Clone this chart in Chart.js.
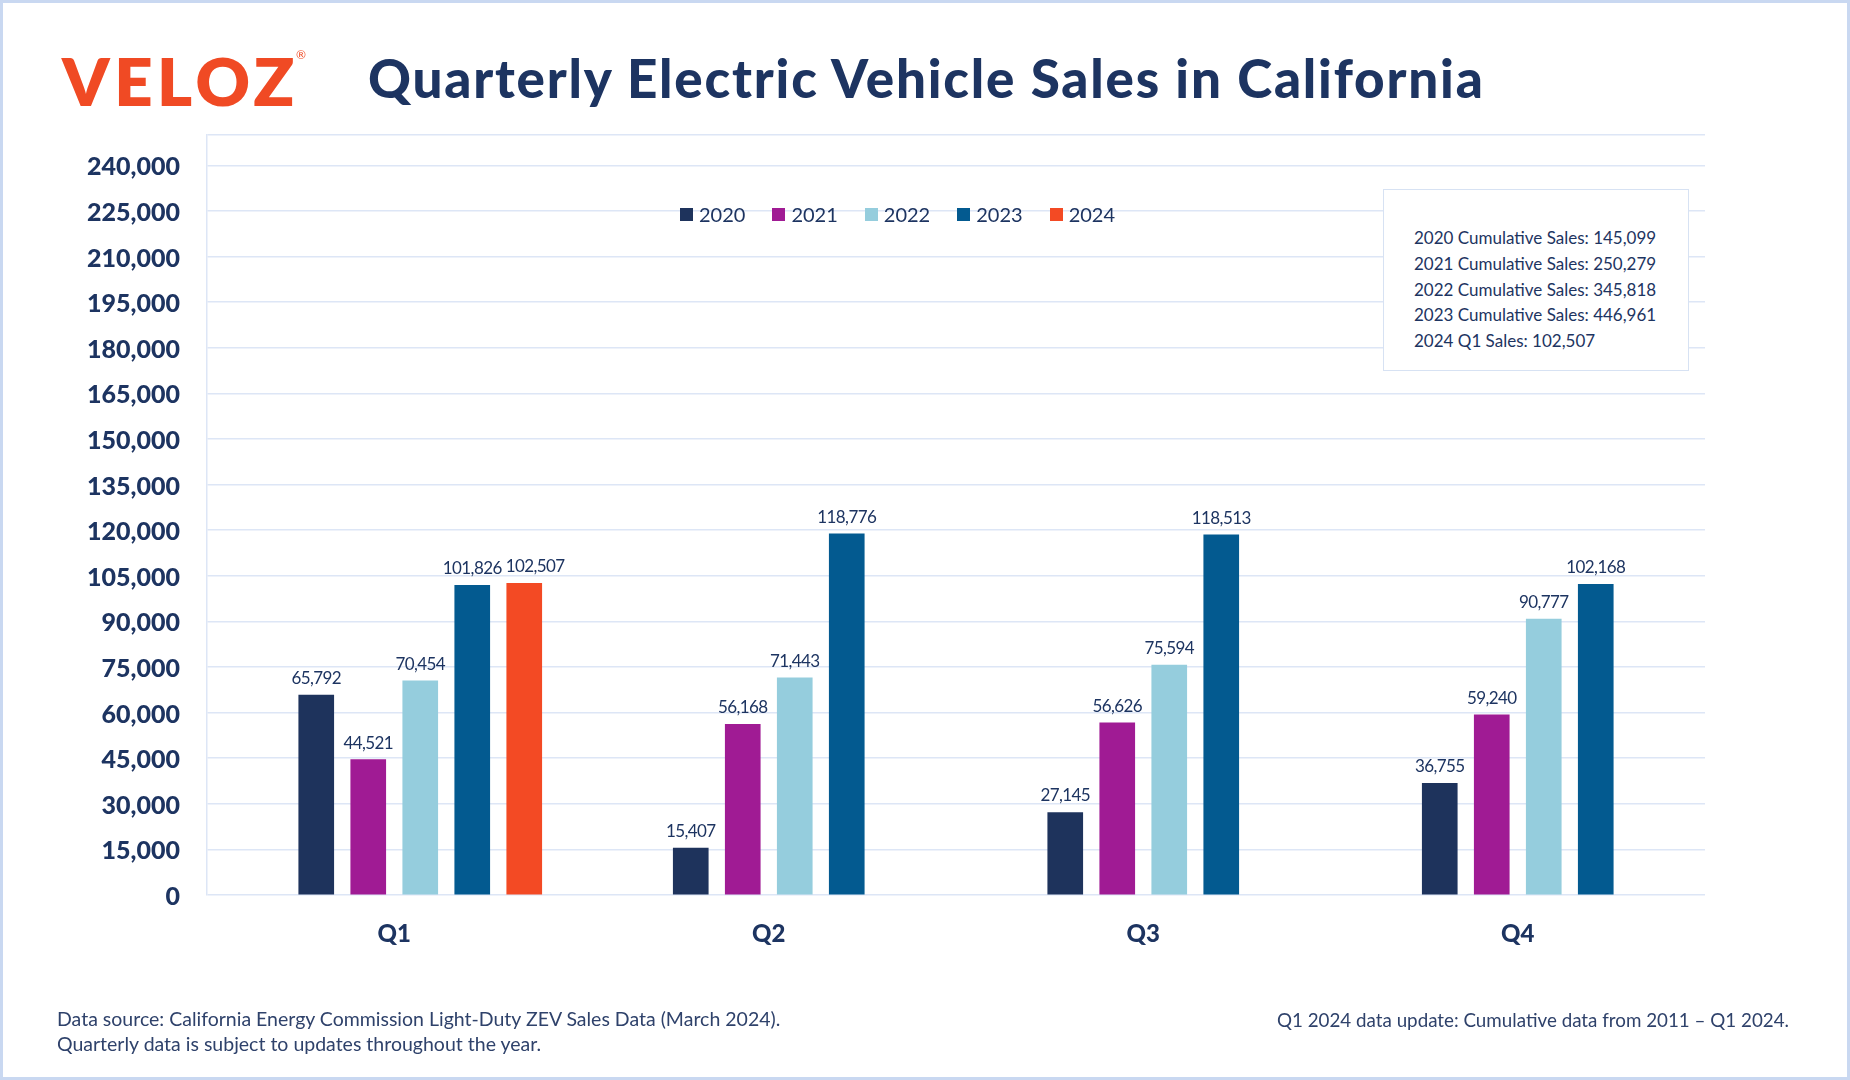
<!DOCTYPE html>
<html>
<head>
<meta charset="utf-8">
<script src="https://cdn.jsdelivr.net/npm/chart.js@4.4.1/dist/chart.umd.min.js"></script>
<style>
html,body{margin:0;padding:0;background:#ffffff;}
body{width:1850px;height:1080px;position:relative;overflow:hidden;font-family:Lato,"Open Sans",sans-serif;color:#1d3461;}
#frame{position:absolute;left:0;top:0;width:1850px;height:1080px;box-sizing:border-box;border:3px solid #c9d8f1;pointer-events:none;z-index:10;}
#logo{position:absolute;left:62px;top:47px;font-weight:800;font-size:67px;line-height:1;color:#f04a24;letter-spacing:4.5px;white-space:nowrap;}
#logo sup{font-size:12px;font-weight:400;letter-spacing:0;vertical-align:top;position:relative;top:2px;left:-3px;}
#title{position:absolute;left:368px;top:51px;font-weight:900;font-size:53px;letter-spacing:1.8px;line-height:1;color:#1d3461;white-space:nowrap;}
#chart{position:absolute;left:0;top:0;}
#legend{position:absolute;left:680px;top:203px;height:22px;display:flex;align-items:center;font-size:20px;line-height:22px;color:#1d3461;}
#legend .item{display:flex;align-items:center;margin-right:27px;}
#legend .sw{width:13px;height:13px;margin-right:6px;}
#info{position:absolute;left:1383px;top:189px;width:306px;height:182px;box-sizing:border-box;border:1.5px solid #d7e2f3;background:#ffffff;padding:35px 0 0 30px;font-size:17px;line-height:25.8px;color:#1d3461;white-space:nowrap;}
#foot1{position:absolute;left:57px;top:1006px;font-size:19.5px;line-height:25px;color:#2f426b;white-space:nowrap;}
#foot2{position:absolute;right:61px;top:1008px;font-size:18.8px;line-height:24px;color:#2f426b;white-space:nowrap;}
</style>
</head>
<body>
<canvas id="chart" width="1850" height="1080"></canvas>
<div id="logo">VELOZ<sup>®</sup></div>
<div id="title">Quarterly Electric Vehicle Sales in California</div>
<div id="legend"></div>
<div id="info"></div>
<div id="foot1">Data source: California Energy Commission Light-Duty ZEV Sales Data (March 2024).<br>Quarterly data is subject to updates throughout the year.</div>
<div id="foot2">Q1 2024 data update: Cumulative data from 2011 – Q1 2024.</div>
<div id="frame"></div>
<script>
// ---- data ----
const quarters = ["Q1", "Q2", "Q3", "Q4"];
const years = ["2020", "2021", "2022", "2023", "2024"];
const sales2020 = [65792, 15407, 27145, 36755];
const sales2021 = [44521, 56168, 56626, 59240];
const sales2022 = [70454, 71443, 75594, 90777];
const sales2023 = [101826, 118776, 118513, 102168];
const sales2024 = [102507, null, null, null];
// invisible zero-height slot so the Q1 group lines up like the original
const slotQ1 = [0, null, null, null];
const yTickValues = [0, 15000, 30000, 45000, 60000, 75000, 90000, 105000, 120000, 135000, 150000, 165000, 180000, 195000, 210000, 225000, 240000];
const yMax = 250000;
const infoLines = [
  "2020 Cumulative Sales: 145,099",
  "2021 Cumulative Sales: 250,279",
  "2022 Cumulative Sales: 345,818",
  "2023 Cumulative Sales: 446,961",
  "2024 Q1 Sales: 102,507"
];
const colors = ["#1e335c", "#a01b94", "#95cddd", "#035a90", "#f34a24"];

const fmt = v => Number(v).toLocaleString("en-US");
const navy = "#1d3461";
const gridColor = "#dde6f6";

const seriesValues = [sales2020, sales2021, sales2022, sales2023, sales2024];
const datasets = [{
  label: "", data: slotQ1, backgroundColor: "rgba(0,0,0,0)", borderWidth: 0, isSlot: true
}];
years.forEach((y, i) => datasets.push({
  label: y, data: seriesValues[i], backgroundColor: colors[i], borderWidth: 0
}));

// value labels above bars; a label that would collide with its left neighbour is nudged right
const valueLabels = {
  id: "valueLabels",
  afterDatasetsDraw(chart) {
    const ctx = chart.ctx;
    ctx.save();
    ctx.font = "17px Lato";
    if ("letterSpacing" in ctx) ctx.letterSpacing = "-0.6px";
    ctx.fillStyle = navy;
    ctx.textAlign = "center";
    ctx.textBaseline = "alphabetic";
    quarters.forEach((q, j) => {
      let prev = null;
      chart.data.datasets.forEach((ds, i) => {
        if (ds.isSlot) return;
        const v = ds.data[j];
        if (v === null || v === undefined) return;
        const bar = chart.getDatasetMeta(i).data[j];
        const text = fmt(v);
        const w = ctx.measureText(text).width;
        let x = bar.x;
        const y = bar.y - 11;
        if (prev && Math.abs(prev.y - y) < 18 && x - w / 2 < prev.right + 4) {
          x = prev.right + 4 + w / 2;
        }
        ctx.fillText(text, x, y);
        prev = { right: x + w / 2, y: y };
      });
    });
    ctx.restore();
  }
};

new Chart(document.getElementById("chart"), {
  type: "bar",
  data: { labels: quarters, datasets: datasets },
  plugins: [valueLabels],
  options: {
    responsive: false,
    animation: false,
    layout: { padding: { top: 135, right: 145, bottom: 125, left: 0 } },
    plugins: { legend: { display: false }, tooltip: { enabled: false }, title: { display: false } },
    datasets: { bar: { barThickness: 52, maxBarThickness: 35, skipNull: true } },
    scales: {
      x: {
        grid: { display: false },
        border: { display: false },
        ticks: { font: { family: "Lato", weight: 900, size: 24 }, color: navy, padding: 17 },
        afterFit(s) { s.height = 60; }
      },
      y: {
        min: 0,
        max: yMax,
        afterBuildTicks(s) { s.ticks = yTickValues.concat([yMax]).map(v => ({ value: v })); },
        grid: { color: gridColor, lineWidth: 1.5, drawTicks: false },
        border: { display: true, color: gridColor, width: 1.5 },
        ticks: {
          autoSkip: false,
          padding: 27,
          labelOffset: 2,
          font: { family: "Lato", weight: 900, size: 25 },
          color: navy,
          callback: v => (yTickValues.includes(v) ? fmt(v) : "")
        },
        afterFit(s) { s.width = 207; }
      }
    }
  }
});

// legend built from the datasets
const legendEl = document.getElementById("legend");
years.forEach((y, i) => {
  const it = document.createElement("div");
  it.className = "item";
  it.innerHTML = '<span class="sw" style="background:' + colors[i] + '"></span><span>' + y + '</span>';
  legendEl.appendChild(it);
});
document.getElementById("info").innerHTML = infoLines.join("<br>");
</script>
</body>
</html>
